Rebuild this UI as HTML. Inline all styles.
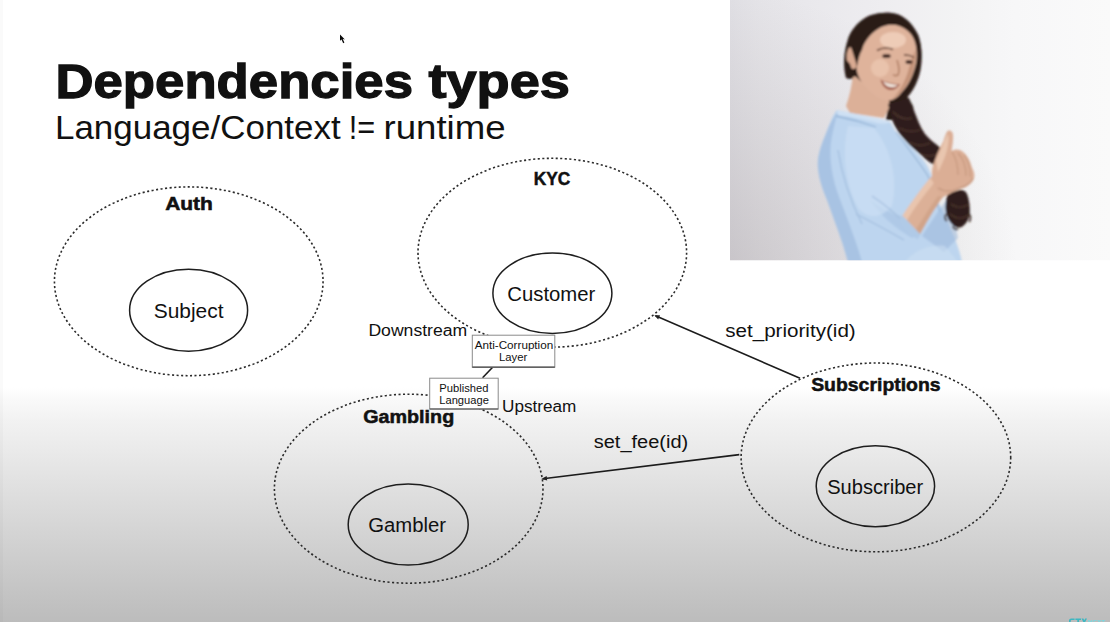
<!DOCTYPE html>
<html>
<head>
<meta charset="utf-8">
<title>Dependencies types</title>
<style>
html,body{margin:0;padding:0;background:#fff;}
body{width:1110px;height:622px;overflow:hidden;font-family:"Liberation Sans",sans-serif;}
svg{display:block;}
text{font-family:"Liberation Sans",sans-serif;fill:#111;}
.b{font-weight:bold;}
.dot{fill:none;stroke:#2b2b2b;stroke-width:1.6;stroke-dasharray:2.1 2.45;}
.sol{fill:none;stroke:#1e1e1e;stroke-width:1.5;}
.ln{stroke:#1c1c1c;stroke-width:1.6;fill:none;}
</style>
</head>
<body>
<svg width="1110" height="622" viewBox="0 0 1110 622">
<defs>
<linearGradient id="bg" x1="0" y1="0" x2="0" y2="1">
<stop offset="0" stop-color="#ffffff"/>
<stop offset="0.622" stop-color="#ffffff"/>
<stop offset="0.643" stop-color="#f9f9f9"/>
<stop offset="0.675" stop-color="#f2f2f2"/>
<stop offset="1" stop-color="#bcbcbc"/>
</linearGradient>
<linearGradient id="ph" gradientUnits="userSpaceOnUse" x1="730" y1="0" x2="1110" y2="0">
<stop offset="0" stop-color="#e0dfe4"/>
<stop offset="0.08" stop-color="#e5e4e8"/>
<stop offset="0.2" stop-color="#e9e8ec"/>
<stop offset="0.4" stop-color="#eeedf0"/>
<stop offset="0.6" stop-color="#f3f3f4"/>
<stop offset="0.75" stop-color="#f7f7f8"/>
<stop offset="1" stop-color="#fafafa"/>
</linearGradient>
<radialGradient id="vg" gradientUnits="userSpaceOnUse" cx="720" cy="290" r="300">
<stop offset="0" stop-color="#6e6264" stop-opacity="0.23"/>
<stop offset="0.5" stop-color="#6e6264" stop-opacity="0.11"/>
<stop offset="1" stop-color="#6e6264" stop-opacity="0"/>
</radialGradient>
<filter id="bl" x="-5%" y="-5%" width="110%" height="110%"><feGaussianBlur stdDeviation="0.9"/></filter>
<clipPath id="pc"><rect x="730" y="0" width="380" height="260.3"/></clipPath>
</defs>
<rect x="0" y="0" width="1110" height="622" fill="url(#bg)"/>
<rect x="0" y="0" width="3" height="622" fill="#000" opacity="0.02"/>

<text class="b" x="55.45" y="98.4" font-size="49" textLength="357.55" lengthAdjust="spacingAndGlyphs" stroke="#111" stroke-width="1.3">Dependencies</text>
<text class="b" x="428.4" y="98.4" font-size="49" textLength="141.52" lengthAdjust="spacingAndGlyphs" stroke="#111" stroke-width="1.3">types</text>
<text x="54.95" y="138.8" font-size="32.5" textLength="285.78" lengthAdjust="spacingAndGlyphs">Language/Context</text>
<text x="348.65" y="138.8" font-size="32.5" textLength="26.46" lengthAdjust="spacingAndGlyphs">!=</text>
<text x="383.5" y="138.8" font-size="32.5" textLength="122.13" lengthAdjust="spacingAndGlyphs">runtime</text>
<!-- cursor -->
<path d="M340 34.6 L340 40.7 L341.5 39.6 L343.2 43.2 L344.4 42.6 L342.7 39.1 L344.9 39.4 Z" fill="#0a0a0a"/>

<!-- photo -->
<g clip-path="url(#pc)">
<rect x="730" y="0" width="380" height="261" fill="url(#ph)"/>
<rect x="730" y="0" width="380" height="261" fill="url(#vg)"/>
<g filter="url(#bl)" id="person">
<!-- hair back -->
<path d="M846 78 C843 66 843.5 52 848 39 C852 28 860 20 870 15.5 C878 12.5 890 11.5 898 14.5 C907 18 914 26 918.5 36 C922 46 922.5 60 920.5 70 C918.5 80 914 90 907.5 97 L913 106 L915 120 L886 120 L888 106 L880 92 L858 80 Z" fill="#2b1d19"/>
<!-- neck -->
<path d="M853 74 C852 84 850 95 846 106 L850 113 L884 118 L890 106 L888 96 L866 86 Z" fill="#dcb098"/>
<!-- ear -->
<path d="M850 47 C846.5 50 846 58 847.5 63 C849 68 852 70.5 856 68 L857 52 Z" fill="#d9aa92"/>
<!-- face -->
<path d="M862 50 C864 42 870 34 878 29 C884 25 893 23.5 900 25.5 C908 28 913.5 35 915.5 44 C917.5 53 917 62 914.5 69 C912 78 907 87 901 93 C897 98 892 101 887 100.5 C880 100 872 94 865 86.5 C859 80 856 72 856.5 64 C857 58 860 54 862 50 Z" fill="#dfb39b"/>
<!-- face highlight -->
<ellipse cx="893" cy="40" rx="13" ry="8" fill="#f1d2be" opacity="0.8"/>
<ellipse cx="880" cy="68" rx="9" ry="9" fill="#edcab4" opacity="0.7"/>
<!-- face shading right -->
<path d="M915 50 C916 60 914 72 908 82 C904 89 898 96 892 99 C900 92 906 80 909 68 Z" fill="#b7846a" opacity="0.7"/>
<!-- brows/eyes -->
<path d="M877 50.5 C882 47.5 888 47.5 893 49.5" stroke="#5a3a2c" stroke-width="1.6" fill="none"/>
<path d="M904 55 C908 54.5 911 55.5 914 57.5" stroke="#5a3a2c" stroke-width="1.5" fill="none"/>
<ellipse cx="886.5" cy="56" rx="4.3" ry="2" fill="#3a241d"/>
<ellipse cx="909" cy="62" rx="3.5" ry="1.9" fill="#3a241d"/>
<!-- nose -->
<path d="M897 60 C899 66 900 71 898 75 C896 76 894 75.5 893 74.5" stroke="#b07e64" stroke-width="1.6" fill="none"/>
<!-- mouth -->
<path d="M880.5 79.5 C885 82 893 84 900 84 C897 89.5 892 91 888 89.5 C884 88 881.5 84 880.5 79.5 Z" fill="#a4604f"/>
<path d="M883 81.3 C887 83.3 893 84.8 898 85 C895 87.6 891 87.8 888 86.5 C885.5 85.3 884 83.5 883 81.3 Z" fill="#f1e6dd"/>
<!-- hair front strands -->
<path d="M848 39 C852 28 860 20 870 15.5 C878 12.5 890 11.5 898 14.5 C907 18 914 26 918.5 36 C921 44 922 52 921 62 C919 50 916 40 910 33 C904 26 894 23 884 25 C874 27.5 866 36 862 48 C860 54 858 60 857 66 L851 47 Z" fill="#2b1d19"/>
<path d="M845 58 C844 66 845 74 848 79 L856 76 C853 72 851 68 850 64 Z" fill="#2b1d19"/>
<!-- shirt -->
<path d="M837 110 C833 114 829 125 825 136 C820 148 817 158 818 168 C819 180 823 190 827 200 C832 214 838 230 843 245 L848 262 L962 262 C960 252 956 240 951 230 C947 220 943 210 939 203 C936 192 934 182 931 174 C928 166 924 160 918 154 C910 146 902 138 896 132 L890 122 L882 119.5 L855 114 Z" fill="#bdd5ef"/>
<!-- shirt shading -->
<path d="M825 136 C820 148 817 158 818 168 C819 180 823 190 827 200 C832 214 838 230 843 245 L848 262 L862 262 C856 240 846 216 838 194 C832 176 828 156 832 136 C834 126 836 118 838 112 C833 117 829 126 825 136 Z" fill="#a5c1e1" opacity="0.9"/>
<path d="M870 200 C880 215 895 228 912 238 L920 234 L901 218 C890 212 878 206 870 200 Z" fill="#a5c1e1" opacity="0.6"/>
<path d="M896 132 C906 146 918 160 928 176 C932 186 936 200 940 212" stroke="#8faed0" stroke-width="1.2" fill="none" opacity="0.8"/>
<path d="M837 110 L855 114 L882 119.5 L890 122 C886 124 880 124 874 122 C862 119 848 116 838 115 Z" fill="#cfe1f4"/>
<path d="M836 116 C846 118 862 122 876 127" stroke="#93b2d4" stroke-width="1.3" fill="none"/>
<path d="M848 126 C842 150 844 182 858 208 C868 220 882 218 892 206 C898 180 892 150 874 128 Z" fill="#cde0f4" opacity="0.65"/>
<path d="M872 196 C884 204 896 214 906 224 M856 214 C872 222 890 232 904 240 M838 150 C842 176 850 200 862 224" stroke="#98b5d7" stroke-width="1.3" fill="none" opacity="0.7"/>
<path d="M922 236 C932 220 942 206 949 196 L958 238 L944 252 Z" fill="#9ab7d9" opacity="0.55"/>
<path d="M905 262 C915 250 930 244 945 246 L958 262 Z" fill="#cfe1f4" opacity="0.5"/>
<!-- braid upper -->
<path d="M888 104 C890 112 892 122 896 128 C902 138 910 146 920 154 C926 160 932 164 938 167 L944 150 C938 146 930 140 925 134 C920 127 917 118 913 108 L909 98 Z" fill="#2e1f1a"/>
<path d="M893 112 C899 118 906 120 912 118 M899 128 C906 132 914 132 920 130 M909 142 C916 146 924 146 930 143 M920 154 C927 157 934 156 939 153" stroke="#5a4036" stroke-width="1.2" fill="none" opacity="0.8"/>
<!-- braid lower -->
<path d="M948 193 C946 199 945 206 946 212 C947 218 950 222 953 225 C956 228 960 228.5 963 226 C967 223 969.5 218 969.8 212 C970 206 969 199 967 194 C965 190 962 189.5 958 190.5 Z" fill="#2e1f1a"/>
<path d="M946 214 C944 217 945 220 947 221 M953 226 C953 229 956 230 958 229 M969 214 C971 216 971 220 969 222" stroke="#3a2822" stroke-width="1.6" fill="none"/>
<path d="M951 204 C956 208 962 208 968 205 M950 214 C956 219 963 219 969 215" stroke="#5a4036" stroke-width="1.1" fill="none" opacity="0.8"/>
<!-- forearm -->
<path d="M930 178 C922 188 912 201 902 216.5 L919.5 235 C926 224 932 212 937 206 C939 202 941 199 943 197 L951 193 L936 173 Z" fill="#dcb097"/>
<path d="M930 178 C922 188 912 201 902 216.5 L906.5 221 C914 208 924 195 934 183 Z" fill="#edccb6" opacity="0.75"/>
<path d="M919.5 235 C926 224 932 212 937 206 C939 202 941 199 943 197 L938 196 C930 207 922 220 915 231 Z" fill="#c99a80" opacity="0.55"/>
<!-- sleeve cuff -->
<path d="M898.5 215 L903.5 216.5 L920.5 234.5 L917.5 239.5 C909 234 902 226 898.5 215 Z" fill="#b0cae7"/>
<!-- hand -->
<path d="M931.9 176 C931.5 170 933 165 934.5 161 C936.5 155 940 147 943.5 141 C945 136 946.5 131.5 948.3 130.6 C951 129.8 953 132 953.1 135.4 C953.3 140 952.6 145 951.5 151 C954 149.5 957 149 960 150 C963 151.5 965.5 154 966.6 155.7 C969 159 970.8 163 971.5 166.3 C973 170 974.6 173 974.4 176 C974.2 179.5 972.5 182 970.5 183.7 C968 186 965 187.6 961.8 188.6 C958 190 955 191.3 952 192.4 C948.5 194 945.5 195.7 942.5 197.2 C938 193 932.5 184 931.9 176 Z" fill="#dbae95"/>
<path d="M936 160 C940 152 944 142 947.5 134 C949 136 949 142 947 150 C945 158 941 166 938 172 Z" fill="#efd0bb" opacity="0.7"/>
<path d="M958 153 C963 158 966 166 966 176 M964 155 C968.5 160 970.5 168 970.5 177 M952 152 C956 158 958 166 958 175" stroke="#b88a70" stroke-width="1.1" fill="none" opacity="0.65"/>
<path d="M938 188 C944 192 952 192 960 188 C966 186 971 183 973 178" stroke="#b88a70" stroke-width="1.6" fill="none" opacity="0.5"/>
</g>
</g>

<!-- context ellipses -->
<ellipse class="dot" cx="188.75" cy="281.3" rx="134.3" ry="94.4"/>
<ellipse class="dot" cx="552.3" cy="252.7" rx="134.3" ry="94.4"/>
<ellipse class="dot" cx="408.7" cy="488.7" rx="134.3" ry="94.5"/>
<ellipse class="dot" cx="875.9" cy="457.4" rx="134.8" ry="94.4"/>

<ellipse class="sol" cx="188.6" cy="310.2" rx="59" ry="41"/>
<ellipse class="sol" cx="552.4" cy="293.2" rx="59.5" ry="40.2"/>
<ellipse class="sol" cx="408.2" cy="524.5" rx="60" ry="40.6"/>
<ellipse class="sol" cx="875.4" cy="486.2" rx="59.2" ry="40.5"/>

<!-- arrows -->
<line class="ln" x1="800" y1="378.3" x2="655.5" y2="315.7"/>
<path d="M654.3 315.2 L660.0 315.2 L658.2 319.4 Z" fill="#222"/>
<line class="ln" x1="739.3" y1="454.6" x2="543" y2="478.8"/>
<path d="M541.4 479 L546.6 476.0 L547.2 480.6 Z" fill="#222"/>
<line class="ln" x1="492.4" y1="367.5" x2="482.6" y2="377.8"/>

<!-- boxes -->
<rect x="472.3" y="335.2" width="82.5" height="32" fill="#fff" stroke="#8a8a8a" stroke-width="1"/>
<rect x="429.7" y="378.2" width="68.5" height="30.8" fill="#fff" stroke="#8a8a8a" stroke-width="1"/>
<path d="M472.3 367.2 H554.8 M429.7 409 H498.2" stroke="#4a4a4a" stroke-width="1.2" fill="none"/>
<text x="474.7" y="348.9" font-size="11" textLength="78.51" lengthAdjust="spacingAndGlyphs" fill="#222">Anti-Corruption</text>
<text x="499.0" y="361.2" font-size="11" textLength="28.31" lengthAdjust="spacingAndGlyphs" fill="#222">Layer</text>
<text x="439.3" y="391.5" font-size="11" textLength="49.06" lengthAdjust="spacingAndGlyphs" fill="#222">Published</text>
<text x="439.3" y="404.3" font-size="11" textLength="49.55" lengthAdjust="spacingAndGlyphs" fill="#222">Language</text>

<text class="b" x="165.15" y="210.4" font-size="18" textLength="47.78" lengthAdjust="spacingAndGlyphs" stroke="#111" stroke-width="0.5">Auth</text>
<text class="b" x="533.7" y="184.8" font-size="18.4" textLength="36.54" lengthAdjust="spacingAndGlyphs" stroke="#111" stroke-width="0.5">KYC</text>
<text class="b" x="363.2" y="422.8" font-size="18" textLength="91.03" lengthAdjust="spacingAndGlyphs" stroke="#111" stroke-width="0.5">Gambling</text>
<text class="b" x="811.15" y="390.6" font-size="18" textLength="129.5" lengthAdjust="spacingAndGlyphs" stroke="#111" stroke-width="0.5">Subscriptions</text>
<text x="153.7" y="317.7" font-size="19.6" textLength="69.77" lengthAdjust="spacingAndGlyphs">Subject</text>
<text x="507.3" y="300.6" font-size="19.6" textLength="88.02" lengthAdjust="spacingAndGlyphs">Customer</text>
<text x="368.2" y="532" font-size="19.6" textLength="77.77" lengthAdjust="spacingAndGlyphs">Gambler</text>
<text x="827.2" y="493.5" font-size="19.6" textLength="96.02" lengthAdjust="spacingAndGlyphs">Subscriber</text>
<text x="368.4" y="336.3" font-size="16" textLength="98.82" lengthAdjust="spacingAndGlyphs">Downstream</text>
<text x="502.05" y="412.4" font-size="16" textLength="74.32" lengthAdjust="spacingAndGlyphs">Upstream</text>
<text x="725.2" y="336.6" font-size="18.3" textLength="130.52" lengthAdjust="spacingAndGlyphs">set_priority(id)</text>
<text x="593.7" y="447.7" font-size="18.3" textLength="94.53" lengthAdjust="spacingAndGlyphs">set_fee(id)</text>
<!-- logo sliver -->
<g fill="#3db7c1">
<path d="M1069 622 V620.6 Q1069 618.4 1071.2 618.4 H1074.6 V620 H1071.6 Q1070.7 620 1070.7 620.9 V622 Z"/>
<path d="M1075.4 618.4 H1081 V620 H1079.1 V622 H1077.3 V620 H1075.4 Z"/>
<path d="M1081.5 618.4 H1083.4 L1084.3 620.2 L1085.2 618.4 H1087 L1085.2 622 H1083.3 Z"/>
</g>
<g fill="#86d3d9">
<path d="M1088 620 H1089.2 L1091 621.6 V620 H1092.2 V622 H1088 Z"/>
<path d="M1093.2 620 H1096.6 V621 H1094.4 V622 H1093.2 Z"/>
<path d="M1097.2 620 H1098.6 L1099.2 620.9 L1099.8 620 H1101.2 L1100 622 H1098.4 Z"/>
<path d="M1101.6 620 H1105.2 V621 H1104 V622 H1102.8 V621 H1101.6 Z"/>
</g>
</svg>
</body>
</html>
